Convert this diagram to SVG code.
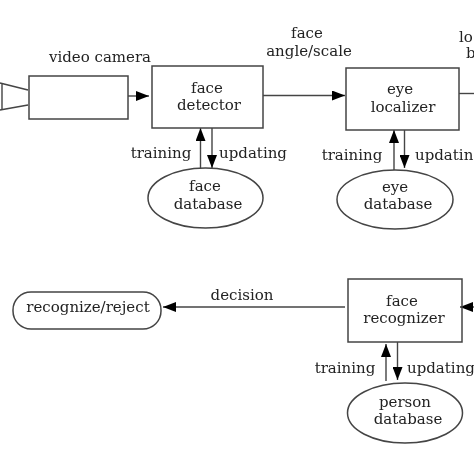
<svg xmlns="http://www.w3.org/2000/svg" width="474" height="474" viewBox="0 0 474 474">
<style>
.s{fill:none;stroke:#444;stroke-width:1.5}
.c{fill:none;stroke:#444;stroke-width:1.4}
text{font-family:"DejaVu Serif","Liberation Serif",serif;font-size:15px;fill:#222;text-anchor:middle}
.l{text-anchor:start}
</style>
<defs>
<marker id="a" markerUnits="userSpaceOnUse" markerWidth="13" markerHeight="10" refX="13" refY="5" orient="auto"><path d="M0 0L13 5L0 10Z" fill="#000"/></marker>
<filter id="b" x="0" y="0" width="474" height="474" filterUnits="userSpaceOnUse"><feGaussianBlur stdDeviation="0.45"/></filter>
</defs>
<rect width="474" height="474" fill="#fff"/>
<g filter="url(#b)">
<g id="connectors">
<path class="c" d="M128 96H149" marker-end="url(#a)"/>
<path class="c" d="M263 95.500H345" marker-end="url(#a)"/>
<path class="c" d="M459 93.500H474"/>
<path class="c" d="M200.500 168V128" marker-end="url(#a)"/>
<path class="c" d="M212 128V168" marker-end="url(#a)"/>
<path class="c" d="M394 170V130" marker-end="url(#a)"/>
<path class="c" d="M404.500 130V168" marker-end="url(#a)"/>
<path class="c" d="M345 307H163" marker-end="url(#a)"/>
<path class="c" d="M474 307H460" marker-end="url(#a)"/>
<path class="c" d="M386 381V344" marker-end="url(#a)"/>
<path class="c" d="M397.500 342V380" marker-end="url(#a)"/>
</g>
<g id="camera"><path class="c" d="M0 83L28 90M0 110L28 105M2 83V110"/><rect class="s" x="29" y="76" width="99" height="43"/></g>
<g id="face-detector"><rect class="s" x="152" y="66" width="111" height="62"/><text x="207" y="93">face</text><text x="209" y="110">detector</text></g>
<g id="eye-localizer"><rect class="s" x="346" y="68" width="113" height="62"/><text x="400" y="94">eye</text><text x="403" y="112">localizer</text></g>
<g id="face-recognizer"><rect class="s" x="348" y="279" width="114" height="63"/><text x="402" y="306">face</text><text x="404" y="323">recognizer</text></g>
<g id="face-database"><ellipse class="s" cx="205.500" cy="198" rx="57.500" ry="30"/><text x="205" y="191">face</text><text x="208" y="209">database</text></g>
<g id="eye-database"><ellipse class="s" cx="395" cy="199.500" rx="58" ry="29.500"/><text x="395" y="192">eye</text><text x="398" y="209">database</text></g>
<g id="person-database"><ellipse class="s" cx="405" cy="413" rx="57.500" ry="30"/><text x="405" y="407">person</text><text x="408" y="424">database</text></g>
<g id="recognize-reject"><rect class="s" x="13" y="292" width="148" height="37" rx="18" ry="18"/><text x="88" y="312">recognize/reject</text></g>
<g id="labels">
<text x="100" y="62">video camera</text>
<text x="307" y="38">face</text><text x="309" y="56">angle/scale</text>
<text x="161" y="158">training</text><text x="253" y="158">updating</text>
<text x="352" y="160">training</text><text class="l" x="415" y="160">updating</text>
<text x="345" y="373">training</text><text class="l" x="407" y="373">updating</text>
<text x="242" y="300">decision</text>
<text class="l" x="459" y="42">lo</text><text class="l" x="466" y="58">b</text>
</g>
</g>
</svg>
